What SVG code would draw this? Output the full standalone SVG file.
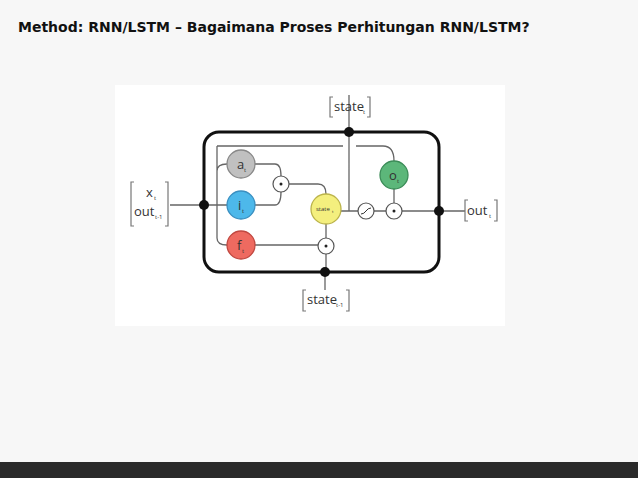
<svg xmlns="http://www.w3.org/2000/svg" width="638" height="478" viewBox="0 0 638 478">
<style>
.w{fill:none;stroke:#666;stroke-width:1.3}
.op{fill:#fff;stroke:#555;stroke-width:1.2}
.t{font-family:"Open Sans","DejaVu Sans",sans-serif;fill:#333}
.br{fill:none;stroke:#777;stroke-width:1.2}
</style>
<rect width="638" height="478" fill="#f7f7f7"/>
<rect x="0" y="462" width="638" height="16" fill="#2a2a2a"/>
<text x="18" y="32" font-family="'DejaVu Sans',sans-serif" font-weight="bold" font-size="14" fill="#111">Method: RNN/LSTM – Bagaimana Proses Perhitungan RNN/LSTM?</text>
<rect x="115" y="85" width="390" height="241" fill="#fff"/>
<g id="connectors">
<path class="w" d="M170 205H204M204 205H227M217 146V238Q217 245 227 245M217 171Q217 164 227 164M217 146H343M356 146H383Q394 146 394 161"/>
<path class="w" d="M255 164H275Q281 164 281 176M255 205H275Q281 205 281 192M289 184H318Q326 184 326 194M255 245H318M326 224V238M326 254V272M325 272V290M341 211H358M374 211H386M402 211H465M394 189V203M349 211V95"/>
</g>
<rect x="204" y="132" width="235" height="140" rx="15" fill="none" stroke="#111" stroke-width="3"/>
<g id="dots" fill="#111"><circle cx="349" cy="132" r="5"/><circle cx="325" cy="272" r="5"/><circle cx="204" cy="205" r="5"/><circle cx="439" cy="211" r="5"/></g>
<g id="a"><circle cx="241" cy="164" r="14" fill="#c0c0c0" stroke="#888" stroke-width="1.3"/><text class="t" x="237" y="169" font-size="13">a</text><text class="t" x="244" y="172" font-size="6">t</text></g>
<g id="i"><circle cx="241" cy="205" r="14" fill="#4db8ea" stroke="#3a8fc0" stroke-width="1.3"/><text class="t" x="238" y="210" font-size="13">i</text><text class="t" x="242" y="213" font-size="6">t</text></g>
<g id="f"><circle cx="241" cy="245" r="14" fill="#ee6a60" stroke="#c04840" stroke-width="1.3"/><text class="t" x="237" y="250" font-size="13">f</text><text class="t" x="242" y="253" font-size="6">t</text></g>
<g id="o"><circle cx="394" cy="175" r="14" fill="#5cb77a" stroke="#3c8c58" stroke-width="1.3"/><text class="t" x="389" y="180" font-size="13">o</text><text class="t" x="397" y="183" font-size="6">t</text></g>
<g id="state"><circle cx="326" cy="209" r="15" fill="#f4ef7e" stroke="#bbb34a" stroke-width="1.3"/><text class="t" x="316" y="211" font-size="6">state</text><text class="t" x="332" y="213" font-size="4">t</text></g>
<g id="m1"><circle class="op" cx="281" cy="184" r="8"/><circle cx="281" cy="184" r="1.5" fill="#222"/></g>
<g id="m2"><circle class="op" cx="326" cy="246" r="8"/><circle cx="326" cy="246" r="1.5" fill="#222"/></g>
<g id="m3"><circle class="op" cx="394" cy="211" r="8"/><circle cx="394" cy="211" r="1.5" fill="#222"/></g>
<g id="tanh"><circle class="op" cx="366" cy="211" r="8"/><path d="M361 214Q364 214 366 211T371 208" fill="none" stroke="#333" stroke-width="1"/></g>
<g id="lbl-state-t"><path class="br" d="M333 97H330V117H333M367 97H370V117H367"/><text class="t" x="334" y="111" font-size="13">state</text><text class="t" x="363" y="114" font-size="6">t</text></g>
<g id="lbl-state-t1"><path class="br" d="M306 290H303V311H306M346 290H349V311H346"/><text class="t" x="307" y="304" font-size="13">state</text><text class="t" x="336" y="307" font-size="6">t-1</text></g>
<g id="lbl-in"><path class="br" d="M134 182H131V226H134M165 182H168V226H165"/><text class="t" x="146" y="197" font-size="13">x</text><text class="t" x="154" y="200" font-size="6">t</text><text class="t" x="134" y="216" font-size="13">out</text><text class="t" x="155" y="219" font-size="6">t-1</text></g>
<g id="lbl-out"><path class="br" d="M468 200H465V221H468M494 200H497V221H494"/><text class="t" x="467" y="215" font-size="13">out</text><text class="t" x="489" y="218" font-size="6">t</text></g>
</svg>
